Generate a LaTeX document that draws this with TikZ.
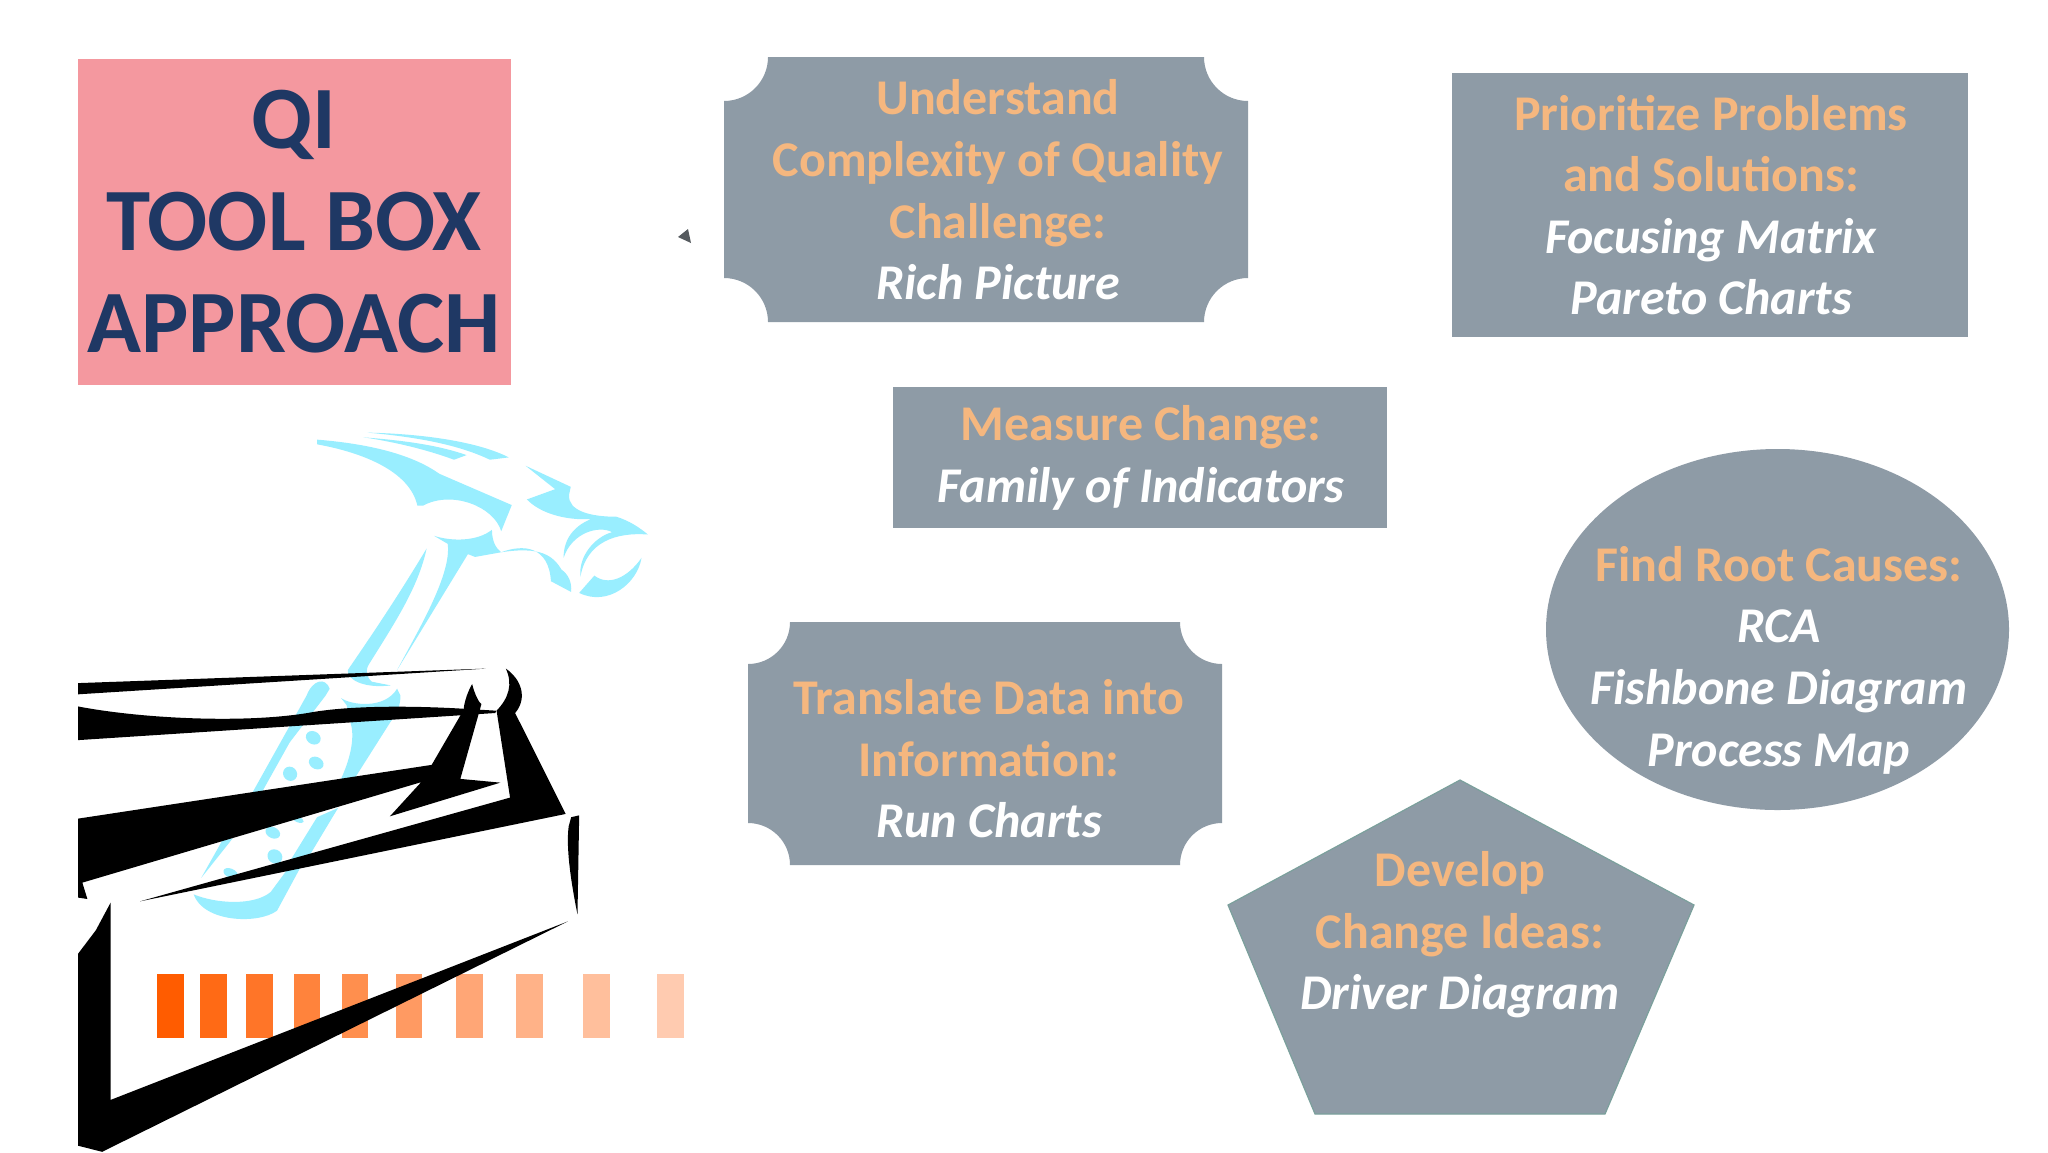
\documentclass[tikz,border=0pt]{standalone}
\usepackage{fontspec}
\setmainfont{Carlito}
\definecolor{pinkbox}{HTML}{F4989F}
\definecolor{navytxt}{HTML}{1F3864}
\definecolor{slatebox}{HTML}{8E9BA6}
\definecolor{peachtxt}{HTML}{F5B77F}
\definecolor{cyanham}{HTML}{99EEFF}
\definecolor{tealedge}{HTML}{7BA09C}
\definecolor{arrowgrey}{HTML}{555A5E}
\newcommand{\head}[1]{{\color{peachtxt}\bfseries #1}}
\newcommand{\tool}[1]{{\color{white}\bfseries\itshape #1}}
\tikzset{
  shapefill/.style={fill=slatebox,draw=none},
  label/.style={align=center,inner sep=0pt,font=\fontsize{25}{30.8}\selectfont},
  title/.style={align=center,inner sep=0pt,text=navytxt,font=\fontsize{44.5}{51}\selectfont\bfseries},
  ham/.style={fill=cyanham,draw=none},
  ink/.style={fill=black,draw=none},
  bar/.style={minimum width=27pt*0.5/0.5,draw=none}
}
\newcommand{\plaque}[5]{% x1 y1 x2 y2 r
  \pgfmathsetmacro{\rr}{#5}\pgfmathsetmacro{\kk}{0.5523*#5}
  \path[shapefill]
    ({#1+\rr},#2) -- ({#3-\rr},#2)
    .. controls ({#3-\rr},{#2+\kk}) and ({#3-\kk},{#2+\rr}) .. (#3,{#2+\rr})
    -- (#3,{#4-\rr})
    .. controls ({#3-\kk},{#4-\rr}) and ({#3-\rr},{#4-\kk}) .. ({#3-\rr},#4)
    -- ({#1+\rr},#4)
    .. controls ({#1+\rr},{#4-\kk}) and ({#1+\kk},{#4-\rr}) .. (#1,{#4-\rr})
    -- (#1,{#2+\rr})
    .. controls ({#1+\kk},{#2+\rr}) and ({#1+\rr},{#2+\kk}) .. ({#1+\rr},#2) -- cycle;}
\begin{document}
\begin{tikzpicture}[x=0.5pt,y=-0.5pt]
\useasboundingbox[fill=white] (0,0) rectangle (2048,1152);

% title
\fill[pinkbox] (78,59) rectangle (511,385);
\node[title] (qi) at (294,222) {QI\\TOOL BOX\\APPROACH};

% tool box clip art, in crop coordinates
\begin{scope}[shift={(60,420)},xscale=0.4214,yscale=0.4673]
 % hammer
 \path[ham] (610,42) .. controls (720,50) and (830,70) .. (900,115) -- (1072,182) -- (1047,238)
   .. controls (1030,185) and (930,150) .. (862,183) -- (848,183)
   .. controls (830,110) and (720,70) .. (610,52) -- cycle;
 \path[ham] (720,37) .. controls (830,45) and (900,55) .. (965,75) -- (935,85) .. controls (860,60) and (780,45) .. (720,37) -- cycle;
 \path[ham] (730,27) .. controls (880,30) and (1000,50) .. (1065,80) -- (1020,85) .. controls (940,50) and (830,35) .. (730,27) -- cycle;
 \path[ham] (1105,98) -- (1212,143) -- (1208,160) .. controls (1205,195) and (1260,207) .. (1320,207)
   .. controls (1350,215) and (1375,230) .. (1395,245)
   .. controls (1320,240) and (1250,260) .. (1235,335)
   .. controls (1230,290) and (1270,250) .. (1310,240)
   .. controls (1280,225) and (1215,240) .. (1195,295)
   .. controls (1195,250) and (1225,225) .. (1260,212)
   .. controls (1200,215) and (1140,200) .. (1108,170) -- (1175,148) -- cycle;
 \path[ham] (1380,295) .. controls (1370,350) and (1300,400) .. (1232,370) -- (1268,333)
   .. controls (1300,355) and (1345,340) .. (1380,295) -- cycle;
 \path[ham] (888,248) .. controls (930,260) and (990,260) .. (1025,235)
   .. controls (1025,260) and (1035,275) .. (1047,283)
   .. controls (1100,265) and (1160,270) .. (1165,345) -- (1213,368)
   .. controls (1215,345) and (1205,330) .. (1190,320)
   .. controls (1170,290) and (1140,270) .. (1047,283)
   -- (985,293) -- (968,287) -- (800,535)
   .. controls (850,450) and (930,330) .. (920,265) -- cycle;
 \path[ham] (870,275) .. controls (800,380) and (740,460) .. (683,535)
   .. controls (680,555) and (720,575) .. (785,568) -- (740,560)
   .. controls (720,545) and (730,525) .. (735,520)
   .. controls (790,440) and (850,360) .. (870,275) -- cycle;
 \path[ham] (667,595) .. controls (690,610) and (770,620) .. (800,575) -- (808,590)
   .. controls (808,620) and (790,640) .. (785,645) -- (690,780) -- (655,790)
   .. controls (690,730) and (700,680) .. (690,650) -- (680,610) -- cycle;
 \path[ham] (640,575) .. controls (630,550) and (600,555) .. (585,590)
   -- (455,800) -- (480,795) -- (545,690) -- (630,590) -- cycle;
 \path[ham] (660,830) -- (590,935) -- (545,945) -- (610,850) -- cycle;
 \path[ham] (410,895) -- (335,980) -- (385,900) -- cycle;
 \path[ham] (317,1015) .. controls (370,1035) and (460,1040) .. (500,1010)
   -- (545,955) -- (575,950) -- (515,1050)
   .. controls (470,1080) and (340,1075) .. (317,1015) -- cycle;
 \foreach \cx/\cy/\ra/\rb in {601/680/18/14,608/734/18/13,546/757/17/15,505/883/18/12,510/934/18/15,405/970/18/10,565/855/14/6}
   \fill[cyanham,rotate around={-20:(\cx,\cy)}] (\cx,\cy) ellipse ({\ra} and {\rb});
 % gradient bars
 \foreach \xa/\xb/\hue in {231/295/FF5C00,333/397/FF6A15,442/505/FF7528,555/618/FF833C,668/731/FF8F4E,797/860/FF9A62,940/1003/FFA676,1083/1146/FFB288,1241/1304/FFBF9C,1417/1480/FFCBB0}{
   \definecolor{barcol}{HTML}{\hue}
   \fill[barcol] (\xa,1185) rectangle (\xb,1323);}
 % black strokes
 \path[ink] (43,563) -- (1010,532) -- (43,587) -- cycle;
 \path[ink] (43,613) .. controls (200,640) and (450,650) .. (600,625)
   .. controls (700,610) and (850,612) .. (960,618) -- (1035,622) -- (1033,627) -- (43,685) -- cycle;
 \path[ink] (43,853) -- (882,738) -- (958,620) .. controls (958,610) and (965,585) .. (978,565)
   .. controls (985,590) and (995,605) .. (1000,608) -- (950,768) -- (1045,776) -- (783,848) -- (857,775)
   -- (53,990) -- (65,1025) -- (43,1022) -- cycle;
 \path[ink] (1058,532) .. controls (1095,555) and (1110,595) .. (1080,627) -- (1200,843) -- (190,1030)
   -- (1068,808) -- (1036,622) .. controls (1065,595) and (1075,565) .. (1058,532) -- cycle;
 \path[ink] (1213,850) -- (1232,846) -- (1228,1058) .. controls (1215,1000) and (1200,920) .. (1207,870) -- cycle;
 \path[ink] (120,1033) -- (120,1455) -- (1205,1073) -- (100,1566) -- (43,1553) -- (43,1142) -- (85,1092) -- cycle;
\end{scope}

% small arrowhead
\fill[arrowgrey] (688,229) -- (678,237) -- (691,243) -- cycle;

% understand
\plaque{724}{57}{1248}{322}{44}
\node[label] (understand) at (998,190) {\head{Understand}\\\head{Complexity of Quality}\\\head{Challenge:}\\\tool{Rich Picture}};

% prioritize
\path[shapefill] (1452,73) rectangle (1968,337);
\node[label] (prioritize) at (1711,205) {\head{Prioritize Problems}\\\head{and Solutions:}\\\tool{Focusing Matrix}\\\tool{Pareto Charts}};

% measure
\path[shapefill] (893,387) rectangle (1387,528);
\node[label] (measure) at (1141,458) {\head{Measure Change:}\\\tool{Family of Indicators}};

% translate
\plaque{748}{622}{1222}{865}{42}
\node[label] (translate) at (989,759) {\head{Translate Data into}\\\head{Information:}\\\tool{Run Charts}};

% root causes
\path[shapefill] (1777.5,629.5) ellipse (231.5 and 180.5);
\node[label] (root) at (1779,660) {\head{Find Root Causes:}\\\tool{RCA}\\\tool{Fishbone Diagram}\\\tool{Process Map}};

% pentagon
\path[fill=slatebox,draw=tealedge,line width=0.6pt] (1460,780) -- (1694,905) -- (1605,1114) -- (1315,1114) -- (1228,905) -- cycle;
\node[label] (develop) at (1460,935) {\head{Develop}\\\head{Change Ideas:}\\\tool{Driver Diagram}};
\end{tikzpicture}
\end{document}
